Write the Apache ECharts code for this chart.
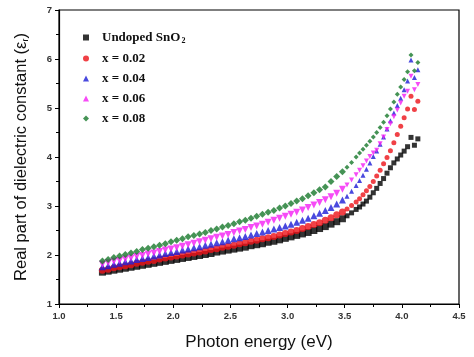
<!DOCTYPE html>
<html>
<head>
<meta charset="utf-8">
<script src="https://cdn.jsdelivr.net/npm/echarts@6/dist/echarts.min.js"></script>
<style>html,body{margin:0;padding:0;background:#fff}#c{width:474px;height:357px}</style>
</head>
<body>
<div id="c"></div>
<script>
// Photon energy (eV) sample positions
const energy = [1.38,1.43,1.48,1.53,1.58,1.63,1.68,1.73,1.78,1.83,1.88,1.93,1.98,2.03,2.08,2.13,2.18,2.23,2.28,2.33,2.38,2.43,2.48,2.53,2.58,2.63,2.68,2.73,2.78,2.83,2.88,2.93,2.98,3.03,3.08,3.13,3.18,3.23,3.28,3.33,3.38,3.43,3.48,
  3.52,3.56,3.60,3.63,3.66,3.69,3.72,3.75,3.78,3.81,3.84,3.87,3.90,3.93,3.96,3.99,4.02,4.05,4.08,4.11,4.14];

const undoped = [1.65,1.67,1.69,1.71,1.73,1.75,1.77,1.79,1.81,1.83,1.85,1.87,1.89,1.91,1.93,1.95,1.97,1.99,2.01,2.03,2.06,2.08,2.10,2.12,2.14,2.16,2.19,2.21,2.23,2.26,2.28,2.31,2.34,2.37,2.40,2.43,2.46,2.50,2.54,2.58,2.63,2.68,2.74,
  2.80,2.86,2.93,2.98,3.04,3.10,3.18,3.27,3.36,3.46,3.56,3.67,3.78,3.88,3.96,4.04,4.12,4.21,4.40,4.24,4.37];

const x002 = [1.69,1.71,1.74,1.76,1.78,1.80,1.83,1.85,1.87,1.89,1.92,1.94,1.96,1.98,2.00,2.02,2.04,2.06,2.08,2.11,2.13,2.16,2.18,2.20,2.23,2.25,2.28,2.30,2.33,2.35,2.38,2.41,2.44,2.47,2.50,2.54,2.58,2.62,2.66,2.71,2.76,2.82,2.88,
  2.94,3.01,3.08,3.15,3.23,3.31,3.40,3.50,3.61,3.73,3.86,3.99,4.13,4.29,4.46,4.63,4.80,4.98,5.24,4.97,5.14];

const x004 = [1.76,1.78,1.81,1.83,1.86,1.88,1.91,1.93,1.95,1.98,2.00,2.03,2.05,2.07,2.10,2.12,2.15,2.17,2.20,2.22,2.25,2.27,2.30,2.33,2.35,2.38,2.41,2.44,2.47,2.50,2.53,2.56,2.59,2.63,2.67,2.71,2.75,2.80,2.85,2.91,2.97,3.04,3.12,
  3.20,3.30,3.42,3.52,3.63,3.75,3.88,4.01,4.12,4.26,4.41,4.57,4.74,4.90,5.05,5.20,5.37,5.55,5.98,5.62,5.78];

const x006 = [1.81,1.84,1.87,1.89,1.92,1.94,1.97,1.99,2.02,2.04,2.07,2.10,2.12,2.15,2.18,2.21,2.24,2.27,2.30,2.33,2.36,2.39,2.42,2.46,2.49,2.52,2.56,2.59,2.63,2.67,2.71,2.75,2.79,2.83,2.87,2.92,2.97,3.02,3.07,3.13,3.19,3.26,3.34,
  3.43,3.53,3.64,3.73,3.82,3.92,4.01,4.08,4.14,4.27,4.41,4.56,4.68,4.82,4.96,5.10,5.24,5.34,5.65,5.37,5.48];

const x008 = [1.88,1.91,1.95,1.98,2.01,2.04,2.07,2.11,2.14,2.17,2.20,2.23,2.27,2.30,2.33,2.37,2.40,2.43,2.46,2.50,2.53,2.57,2.60,2.64,2.68,2.71,2.75,2.79,2.83,2.87,2.91,2.96,3.00,3.05,3.10,3.15,3.21,3.27,3.33,3.39,3.50,3.60,3.70,
  3.79,3.89,4.00,4.08,4.16,4.24,4.32,4.41,4.50,4.60,4.71,4.84,4.98,5.12,5.28,5.43,5.58,5.74,6.08,5.76,5.93];

const seriesNames = ['Undoped SnO2','x = 0.02','x = 0.04','x = 0.06','x = 0.08'];
const xTicks = [1.0,1.5,2.0,2.5,3.0,3.5,4.0,4.5];
const yTicks = [1,2,3,4,5,6,7];

const colors = ['#000000','#ec1218','#1c1cd6','#f41ef4','#17782a'];
const symbols = ['rect','circle','triangle','triangle','diamond'];
const rotates = [0,0,0,180,0];
const values = [undoped,x002,x004,x006,x008];

const chart = echarts.init(document.getElementById('c'));
chart.setOption({
  animation: false,
  backgroundColor: '#fff',
  grid: {left: 59, right: 15, top: 10, bottom: 53, show: true, borderColor: '#000', borderWidth: 1.2},
  legend: {
    orient: 'vertical', left: 78, top: 26, itemWidth: 6, itemHeight: 6, itemGap: 7,
    data: seriesNames,
    formatter: function (n) { return n === 'Undoped SnO2' ? '{t|Undoped SnO}{s|2}' : '{t|' + n + '}'; },
    textStyle: {
      padding: [0,0,0,8],
      rich: {
        t: {fontFamily: 'Liberation Serif', fontWeight: 'bold', fontSize: 13, color: '#111'},
        s: {fontFamily: 'Liberation Serif', fontWeight: 'bold', fontSize: 8, color: '#111', padding: [7,0,0,1]}
      }
    }
  },
  xAxis: {
    type: 'value', min: xTicks[0], max: xTicks[xTicks.length-1], interval: 0.5,
    name: 'Photon energy (eV)', nameLocation: 'middle', nameGap: 30,
    nameTextStyle: {fontFamily: 'Liberation Sans', fontSize: 17, color: '#111'},
    axisLine: {lineStyle: {color: '#000', width: 1.2}},
    axisTick: {inside: false, length: 4, lineStyle: {color: '#000'}},
    minorTick: {show: true, splitNumber: 2, length: 3, lineStyle: {color: '#000'}},
    splitLine: {show: false},
    axisLabel: {fontFamily: 'Liberation Sans', fontWeight: 'bold', fontSize: 9.5, color: '#333', margin: 7,
      formatter: v => v.toFixed(1)}
  },
  yAxis: {
    type: 'value', min: yTicks[0], max: yTicks[yTicks.length-1], interval: 1,
    name: 'Real part of dielectric constant ({n|ε}{s|r}{n|)}', nameLocation: 'middle', nameGap: 29,
    nameTextStyle: {fontFamily: 'Liberation Sans', fontSize: 16.5, color: '#111',
      rich: {n: {fontFamily: 'Liberation Sans', fontSize: 16.5, color: '#111'},
             s: {fontFamily: 'Liberation Sans', fontSize: 9, color: '#111', padding: [8,0,0,0]}}},
    axisLine: {show: true, lineStyle: {color: '#000', width: 1.2}},
    axisTick: {inside: false, length: 4, lineStyle: {color: '#000'}},
    minorTick: {show: true, splitNumber: 2, length: 3, lineStyle: {color: '#000'}},
    splitLine: {show: false},
    axisLabel: {fontFamily: 'Liberation Sans', fontWeight: 'bold', fontSize: 9.5, color: '#333', margin: 7}
  },
  series: seriesNames.map((n, i) => ({
    name: n, type: 'scatter', symbol: symbols[i], symbolRotate: rotates[i],
    symbolSize: function (d) { return d[0] < 3.5 ? 7 : 5; },
    itemStyle: {color: colors[i]},
    data: energy.map((e, k) => [e, values[i][k]])
  }))
});
</script>
</body>
</html>
